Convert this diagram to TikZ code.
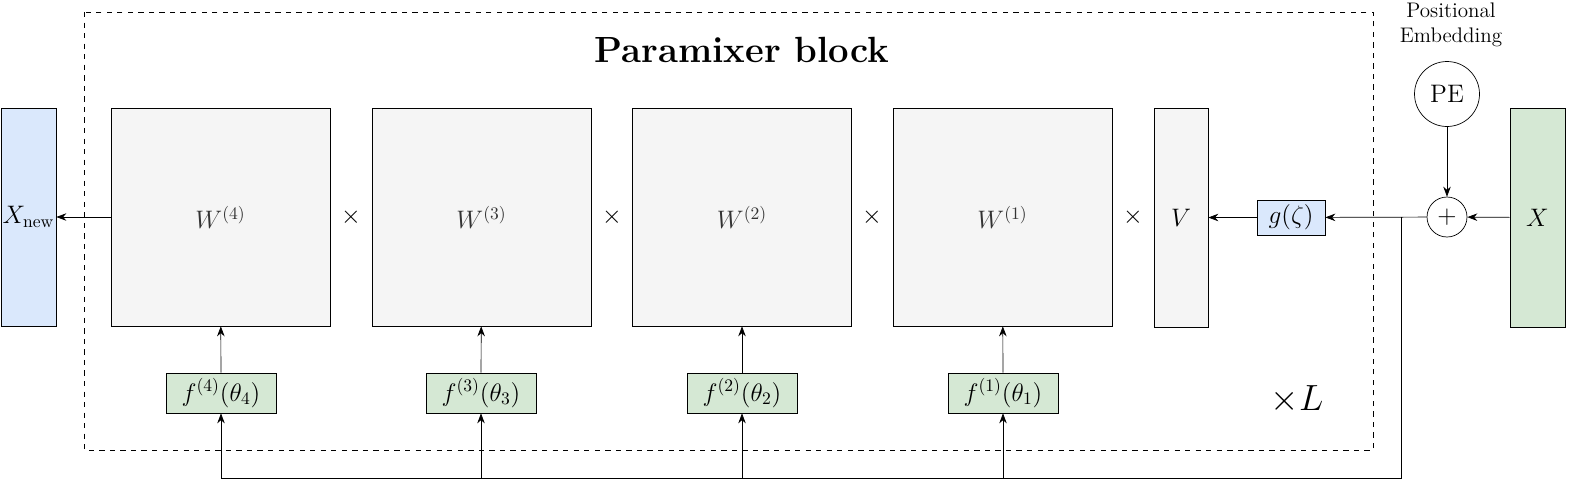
\documentclass[tikz,border=0pt]{standalone}
\usetikzlibrary{arrows.meta}
\definecolor{lblue}{HTML}{DAE8FC}
\definecolor{lgreen}{HTML}{D5E8D4}
\definecolor{lgray}{HTML}{F5F5F5}
\begin{document}
\begin{tikzpicture}[x=0.02cm,y=-0.02cm,
  mat/.style={draw=black, fill=lgray, inner sep=0pt, text=black!80, font=\Large},
  fbox/.style={draw=black, fill=lgreen, minimum width=2.2cm, minimum height=0.8cm, inner sep=0pt, font=\Large},
  gbox/.style={draw=black, fill=lblue, minimum width=1.36cm, minimum height=0.7cm, inner sep=0pt, font=\Large},
  times/.style={font=\Large},
  arr/.style={-{Stealth[length=2mm]}}
]
\useasboundingbox (0,0) rectangle (1572,481);
\draw[dashed] (84,12) rectangle (1373,450);
\node[font=\huge\bfseries] (title) at (742,50) {Paramixer block};

\node[draw, fill=lblue, minimum width=1.1cm, minimum height=4.36cm, inner sep=0pt, font=\Large] (xnew) at (28.5,217) {$X_{\mathrm{new}}$};
\node[mat, minimum width=4.38cm, minimum height=4.36cm] (w4) at (220.5,217) {$W^{(4)}$};
\node[mat, minimum width=4.38cm, minimum height=4.36cm] (w3) at (481.5,217) {$W^{(3)}$};
\node[mat, minimum width=4.38cm, minimum height=4.36cm] (w2) at (742,217) {$W^{(2)}$};
\node[mat, minimum width=4.38cm, minimum height=4.36cm] (w1) at (1002.5,217) {$W^{(1)}$};
\node[draw, fill=lgray, inner sep=0pt, minimum width=1.08cm, minimum height=4.38cm, font=\Large] (v) at (1181,217.5) {$V$};
\node[times] (t4) at (351,217) {$\times$};
\node[times] (t3) at (612,217) {$\times$};
\node[times] (t2) at (872,217) {$\times$};
\node[times] (t1) at (1133,217) {$\times$};

\node[gbox] (g) at (1291,217.5) {$g(\zeta)$};
\node[draw, circle, minimum size=0.8cm, inner sep=0pt, font=\Large] (plus) at (1447,217) {$+$};
\node[draw, circle, minimum size=1.3cm, inner sep=0pt, font=\Large] (pe) at (1447,94) {PE};
\node[align=center, font=\large, inner sep=0pt] (petxt) at (1451,25) {Positional\\Embedding};
\node[draw, fill=lgreen, minimum width=1.1cm, minimum height=4.38cm, inner sep=0pt, font=\Large] (x) at (1537.5,217.5) {$X$};

\node[fbox] (f4) at (221,393) {$f^{(4)}(\theta_4)$};
\node[fbox] (f3) at (481,393) {$f^{(3)}(\theta_3)$};
\node[fbox] (f2) at (742,393) {$f^{(2)}(\theta_2)$};
\node[fbox] (f1) at (1003,393) {$f^{(1)}(\theta_1)$};
\node[font=\huge] (xl) at (1297,400) {$\times L$};

\coordinate (split) at (1401,217);
\coordinate (corner) at (1401,478);

\draw[arr] (x) -- (plus);
\draw[arr] (pe) -- (plus);
\draw[arr] (plus) -- (g);
\draw[arr] (g) -- (v);
\draw[arr] (w4) -- (xnew);
\draw[arr] (f4) -- (w4);
\draw[arr] (f3) -- (w3);
\draw[arr] (f2) -- (w2);
\draw[arr] (f1) -- (w1);
\draw (split) -- (corner) -- (f4.south |- corner);
\foreach \f in {f1,f2,f3,f4} \draw[arr] (\f.south |- corner) -- (\f.south);
\end{tikzpicture}
\end{document}
